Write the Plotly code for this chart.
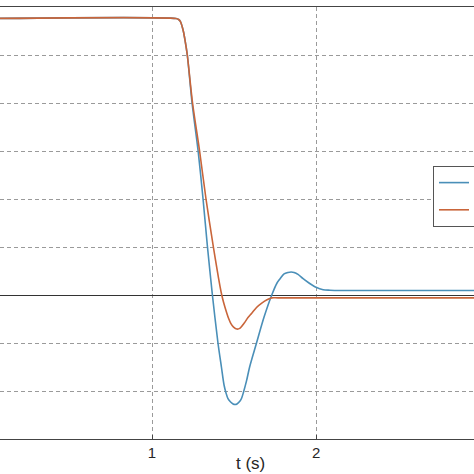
import plotly.graph_objects as go

# Time (s) and response values
t_blue = [0.0, 1.146, 1.162, 1.174, 1.183, 1.192, 1.201, 1.215, 1.244, 1.281, 1.311, 1.338, 1.368,
          1.402, 1.423, 1.439, 1.451, 1.463, 1.479, 1.494, 1.506, 1.518, 1.534, 1.546, 1.558,
          1.576, 1.595, 1.637, 1.683, 1.730, 1.762, 1.781, 1.805, 1.829, 1.848, 1.866, 1.890,
          1.921, 1.957, 2.000, 2.043, 2.085, 2.146, 3.0]
v_blue = [5.76, 5.76, 5.74, 5.69, 5.60, 5.48, 5.31, 5.0, 4.0, 3.0, 2.0, 1.0, 0.0,
          -1.0, -1.5, -1.875, -2.04, -2.16, -2.23, -2.27, -2.28, -2.27, -2.22, -2.15, -2.02,
          -1.79, -1.5, -1.0, -0.46, 0.0, 0.25, 0.34, 0.44, 0.47, 0.48, 0.47, 0.43,
          0.34, 0.25, 0.16, 0.11, 0.10, 0.094, 0.094]

t_orange = [0.0, 1.146, 1.162, 1.174, 1.183, 1.192, 1.201, 1.215, 1.247, 1.290, 1.329, 1.374,
            1.399, 1.415, 1.425, 1.436, 1.456, 1.467, 1.480, 1.497, 1.517, 1.537, 1.561, 1.585,
            1.608, 1.637, 1.669, 1.701, 1.730, 1.768, 3.0]
v_orange = [5.76, 5.76, 5.74, 5.69, 5.60, 5.48, 5.31, 5.0, 4.0, 3.0, 2.0, 1.0,
            0.48, 0.17, 0.0, -0.15, -0.38, -0.49, -0.59, -0.67, -0.71, -0.69, -0.59, -0.47,
            -0.38, -0.26, -0.17, -0.10, -0.06, -0.06, -0.06]

series_names = ["Response 1", "Response 2"]
x_ticks = [1, 2]
x_tick_labels = ["1", "2"]
y_grid = [-3, -2, -1, 0, 1, 2, 3, 4, 5, 6]

BLUE = "#4a8fb8"
ORANGE = "#c9653a"

fig = go.Figure()
fig.add_trace(go.Scatter(x=t_blue, y=v_blue, mode="lines", name=series_names[0], legendgroup="a",
                         line=dict(color=BLUE, width=1.6, shape="spline", smoothing=0.8)))
fig.add_trace(go.Scatter(x=t_orange, y=v_orange, mode="lines", name=series_names[1], legendgroup="b",
                         line=dict(color=ORANGE, width=1.6, shape="spline", smoothing=0.8)))

fig.update_layout(
    width=474, height=474,
    margin=dict(l=0, r=0, t=7, b=35, autoexpand=False),
    paper_bgcolor="white", plot_bgcolor="white",
    font=dict(family="Liberation Sans, Arial, sans-serif", size=15, color="#262626"),
    showlegend=True,
    legend=dict(x=433/474, y=(439-166)/432, xanchor="left", yanchor="top",
                bordercolor="#555555", borderwidth=1, bgcolor="white",
                font=dict(size=14), tracegroupgap=6),
    annotations=[dict(text="t (s)", x=1.598, xref="x", y=-0.056, yref="paper",
                      xanchor="center", yanchor="middle", showarrow=False,
                      font=dict(size=17, color="#262626"))],
)

fig.update_xaxes(range=[0.073, 2.963], tickvals=x_ticks, ticktext=x_tick_labels,
                 showgrid=True, gridcolor="#9a9a9a", griddash="4px,3px", gridwidth=1,
                 showline=True, linecolor="#444444", linewidth=1.3, mirror=True,
                 ticks="inside", ticklen=4, tickcolor="#444444", zeroline=False)
fig.update_yaxes(range=[-3, 6], tickvals=y_grid, showticklabels=False,
                 showgrid=True, gridcolor="#9a9a9a", griddash="4px,3px", gridwidth=1,
                 showline=False, ticks="", zeroline=True, zerolinecolor="#333333",
                 zerolinewidth=1.2)

fig.write_html("out.html", config={"displayModeBar": False},
               post_script="document.body.style.margin='0';document.body.style.overflow='hidden';")
